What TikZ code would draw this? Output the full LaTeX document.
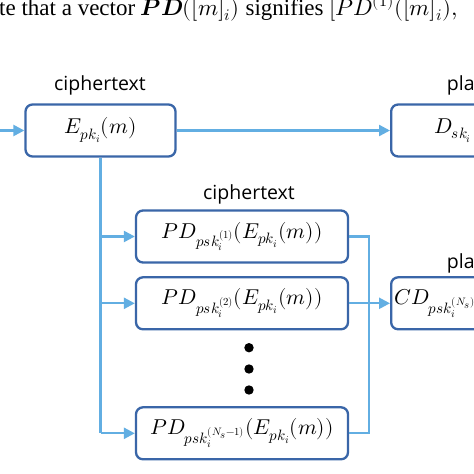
\documentclass[tikz,border=0pt]{standalone}
\usepackage{fontspec}
\usepackage{unicode-math}
\setmainfont{Liberation Serif}
\setmathfont{Latin Modern Math}
\newfontfamily\labfont{Open Sans}
\usetikzlibrary{arrows.meta}
\definecolor{boxblue}{HTML}{3A66A8}
\definecolor{linkblue}{HTML}{62AEE2}
\tikzset{
  box/.style={draw=boxblue, line width=2.3pt, rounded corners=7pt, fill=white,
    minimum height=52pt, inner sep=0pt, font=\fontsize{21.5}{24}\selectfont},
  conn/.style={draw=linkblue, line width=2.3pt},
  arr/.style={conn, -{Triangle[length=11pt,width=11pt]}},
  lab/.style={font=\labfont\fontsize{19.5}{22}\selectfont, inner sep=0pt},
  captext/.style={font=\fontsize{23}{26}\selectfont, inner sep=0pt},
  dotnode/.style={circle, fill=black, minimum size=9.4pt, inner sep=0pt}
}
\begin{document}
\begin{tikzpicture}[x=1pt,y=-1pt]
\useasboundingbox (0,0) rectangle (474,474);
\clip (0,0) rectangle (474,474);
\fill[white] (0,0) rectangle (474,474);
% caption fragment
\node[captext, anchor=base west] (captn) at (-1,15) {te that a vector $\symbfit{PD}([m]_i)$ signifies $[PD^{(1)}([m]_i),$};
% boxes
\node[box, minimum width=150pt] (E) at (100.5,130.5) {$E_{pk_i}(m)$};
\node[box, anchor=west, inner xsep=43pt] (D) at (390,130.5) {$D_{sk_i}$};
\node[box, minimum width=212pt] (P1) at (242,236.5) {$PD_{psk_i^{(1)}}(E_{pk_i}(m))$};
\node[box, minimum width=212pt] (P2) at (242,303.3) {$PD_{psk_i^{(2)}}(E_{pk_i}(m))$};
\node[box, minimum width=212pt] (P3) at (242,433.3) {$PD_{psk_i^{(N_s-1)}}(E_{pk_i}(m))$};
\node[box, anchor=west, inner xsep=3pt] (CD) at (390,303.3) {$CD_{psk_i^{(N_s)}}(E_{pk_i}(m))$};
% labels
\node[lab, anchor=base] (c1) at (100,90.7) {ciphertext};
\node[lab, anchor=base] (c2) at (249,199) {ciphertext};
\node[lab, anchor=base west] (p1) at (446.7,90.7) {plaintext};
\node[lab, anchor=base west] (p2) at (446.7,268) {plaintext};
% dots
\node[dotnode] (d1) at (249,347.7) {};
\node[dotnode] (d2) at (249,369) {};
\node[dotnode] (d3) at (249,390) {};
% connectors
\coordinate (in) at (-3,130.5);
\coordinate (rb) at (369.3,0);
\draw[arr] (in) -- (E.west);
\draw[arr] (E.east) -- (D.west);
\draw[conn] (E.south) -- (E.south |- P3.west);
\draw[arr] (E.south |- P1.west) -- (P1.west);
\draw[arr] (E.south |- P2.west) -- (P2.west);
\draw[arr] (E.south |- P3.west) -- (P3.west);
\draw[conn] (P1.east) -- (P1.east -| rb) -- (P3.east -| rb) -- (P3.east);
\draw[arr] (P2.east) -- (CD.west);
\end{tikzpicture}
\end{document}
